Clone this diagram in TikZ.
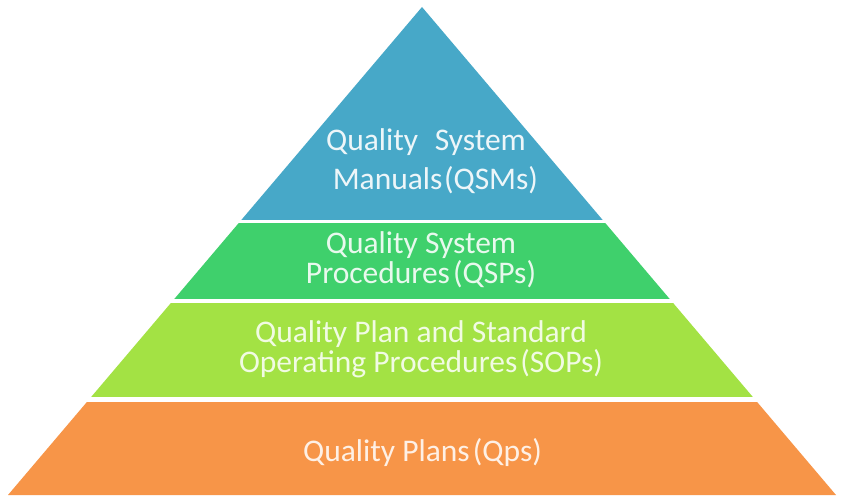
\documentclass[tikz,border=0pt]{standalone}
\usepackage{fontspec}
\setmainfont{Carlito}
\definecolor{bandblue}{HTML}{47A8C8}
\definecolor{bandgreen}{HTML}{3FD06C}
\definecolor{bandlime}{HTML}{A3E244}
\definecolor{bandorange}{HTML}{F79548}
\tikzset{
  lbl/.style={anchor=base, inner sep=0pt, align=center, text=#1},
}
\begin{document}
\begin{tikzpicture}[x=1pt,y=-1pt]
  \fill[white] (0,0) rectangle (846,503);
  \useasboundingbox (0,0) rectangle (846,503);
  \coordinate (apex) at (422,7);
  \coordinate (bl) at (8,495);
  \coordinate (br) at (836,495);
  \begin{scope}
    \clip (bl) -- (apex) -- (br) -- cycle;
    \fill[bandblue]   (0,0)   rectangle (846,220);
    \fill[bandgreen]  (0,223) rectangle (846,299);
    \fill[bandlime]   (0,303) rectangle (846,397);
    \fill[bandorange] (0,402) rectangle (846,496);
  \end{scope}
  \node[lbl=white!90!bandblue, font=\fontsize{31.5}{39}\selectfont] (qsm) at (426,189)
    {Quality\hspace{0.3em} System\\\hspace*{0.6em}Manuals\hspace{0.05em}(QSMs)};
  \node[lbl=white!88!bandgreen, font=\fontsize{31.5}{28}\selectfont] (qsp) at (421,283)
    {Quality System\\Procedures\hspace{0.1em}(QSPs)};
  \node[lbl=white!85!bandlime, font=\fontsize{31.5}{27}\selectfont] (sop) at (421,372)
    {Quality Plan and Standard\\Operating Procedures\hspace{0.1em}(SOPs)};
  \node[lbl=white!86!bandorange, font=\fontsize{31.5}{31.5}\selectfont] (qp) at (422.5,461)
    {Quality Plans\hspace{0.1em}(Qps)};
\end{tikzpicture}
\end{document}
